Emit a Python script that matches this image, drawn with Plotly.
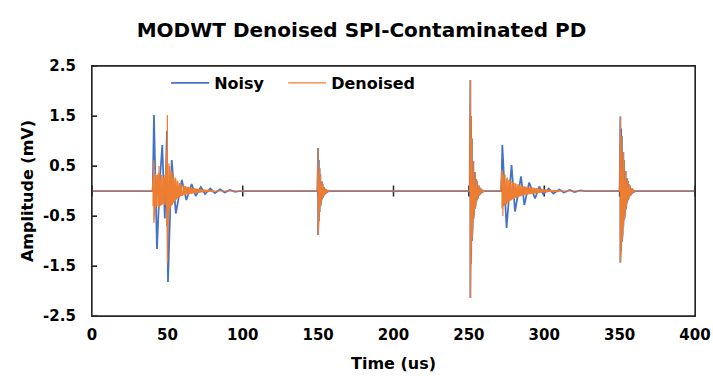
import plotly.graph_objects as go

# ---------------- text ----------------
TITLE = "MODWT Denoised SPI-Contaminated PD"
X_TITLE = "Time (us)"
Y_TITLE = "Amplitude (mV)"
SERIES = ["Noisy", "Denoised"]
x_tick_vals = [0, 50, 100, 150, 200, 250, 300, 350, 400]
y_tick_vals = [-2.5, -1.5, -0.5, 0.5, 1.5, 2.5]
y_tick_text = ["-2.5", "-1.5", "-0.5", "0.5", "1.5", "2.5"]
x_axis_crossing = 0.0  # horizontal axis crosses the vertical axis at 0 mV

# ---------------- data ----------------
record_t = [0.0, 400.0]
record_v = [0.0, 0.0]

# Noisy: low-frequency SPI oscillation peaks (time us, amplitude mV)
spi1_t = [40.3, 41.1, 43.1, 45.0, 46.6, 48.3, 49.7, 50.4, 52.9, 55.6, 59.6, 62.6,
          66.1, 68.8, 72.2, 75.0, 78.5, 81.5, 85.0, 88.0, 91.5, 95.0, 98.0]
spi1_v = [0.0, 1.52, -1.16, 0.2, 0.92, -0.55, 1.2, -1.82, 0.62, -0.45, 0.22, -0.18,
          0.14, -0.1, 0.08, -0.06, 0.05, -0.04, 0.035, -0.03, 0.02, -0.015, 0.0]
spi2_t = [271.5, 272.2, 275.0, 278.3, 280.6, 284.6, 286.8, 290.0, 293.9, 296.7,
          299.4, 303.0, 306.0, 310.0, 313.0, 317.0, 320.0, 324.0, 327.0]
spi2_v = [0.0, 0.92, -0.74, 0.52, -0.41, 0.29, -0.28, 0.17, -0.15, 0.09,
          -0.07, 0.05, -0.05, 0.03, -0.03, 0.02, -0.02, 0.01, 0.0]

# PD pulses present in both signals: sampled upper / lower extremes
pd150_t = [149.5, 150.0, 150.5, 151.0, 151.5, 152.0, 152.5, 153.0, 153.5, 154.0,
           154.5, 155.0, 155.5, 156.0, 156.5, 157.0, 157.5]
pd150_hi = [0.0, 0.86, 0.62, 0.45, 0.33, 0.25, 0.19, 0.14, 0.11, 0.08,
            0.06, 0.045, 0.035, 0.025, 0.018, 0.012, 0.0]
pd150_lo = [0.0, -0.88, -0.6, -0.42, -0.3, -0.23, -0.17, -0.13, -0.1, -0.075,
            -0.055, -0.04, -0.03, -0.022, -0.016, -0.01, 0.0]

pd250_t = [250.5, 251.0, 251.5, 252.0, 252.5, 253.0, 253.5, 254.0, 254.5, 255.0,
           255.5, 256.0, 256.5, 257.0, 257.5, 258.0, 258.5, 259.0, 259.5, 260.0, 260.5]
pd250_hi = [0.0, 2.22, 1.5, 1.05, 0.78, 0.6, 0.47, 0.38, 0.3, 0.24,
            0.19, 0.15, 0.11, 0.085, 0.065, 0.05, 0.035, 0.025, 0.015, 0.01, 0.0]
pd250_lo = [0.0, -2.14, -1.45, -1.0, -0.74, -0.56, -0.44, -0.35, -0.28, -0.22,
            -0.17, -0.13, -0.1, -0.075, -0.055, -0.04, -0.03, -0.02, -0.012, -0.008, 0.0]

pd350_t = [350.0, 350.5, 351.0, 351.5, 352.0, 352.5, 353.0, 353.5, 354.0, 354.5,
           355.0, 355.5, 356.0, 356.5, 357.0, 357.5, 358.0, 358.5, 359.0, 359.5, 360.0, 360.5]
pd350_hi = [0.0, 1.49, 1.25, 1.1, 0.92, 0.78, 0.62, 0.5, 0.4, 0.31,
            0.25, 0.2, 0.16, 0.13, 0.1, 0.08, 0.06, 0.045, 0.03, 0.02, 0.01, 0.0]
pd350_lo = [0.0, -1.43, -1.2, -1.02, -0.86, -0.72, -0.58, -0.47, -0.37, -0.29,
            -0.23, -0.18, -0.14, -0.11, -0.09, -0.07, -0.05, -0.04, -0.025, -0.015, -0.01, 0.0]

# Denoised-only PD content inside the SPI-contaminated regions
dn40_t = [40.0, 40.5, 41.0, 41.5, 42.0, 42.5, 43.0, 43.5, 44.0, 44.5, 45.0,
          45.5, 46.0, 46.5, 47.0, 47.5, 48.0, 48.5, 49.0, 49.5, 50.0,
          50.5, 51.0, 51.5, 52.0, 52.5, 53.0, 53.5, 54.0, 54.5, 55.0,
          55.5, 56.0, 56.5, 57.0, 57.5, 58.0, 58.5, 59.0, 59.5, 60.0,
          61.0, 62.0, 63.0, 64.0, 65.0, 66.0, 67.0, 68.0, 69.0, 70.0,
          71.0, 72.0, 73.0, 74.0, 75.0, 76.0, 77.0, 78.0, 79.0, 80.0, 81.0]
dn40_hi = [0.0, 0.3, 0.62, 0.4, 0.34, 0.3, 0.32, 0.28, 0.35, 0.5, 0.34,
           0.28, 0.32, 0.3, 0.28, 0.26, 0.28, 0.32, 0.42, 0.8, 1.52,
           0.85, 0.55, 0.5, 0.45, 0.42, 0.38, 0.35, 0.32, 0.29, 0.27,
           0.25, 0.23, 0.21, 0.19, 0.17, 0.16, 0.15, 0.14, 0.13, 0.12,
           0.11, 0.1, 0.09, 0.085, 0.075, 0.065, 0.06, 0.055, 0.05, 0.045,
           0.04, 0.036, 0.033, 0.03, 0.027, 0.025, 0.022, 0.02, 0.018, 0.016, 0.0]
dn40_lo = [0.0, -0.3, -0.64, -0.45, -0.32, -0.28, -0.3, -0.27, -0.32, -0.36, -0.3,
           -0.27, -0.28, -0.26, -0.27, -0.24, -0.26, -0.28, -0.38, -0.7, -1.45,
           -0.75, -0.42, -0.36, -0.33, -0.3, -0.28, -0.25, -0.23, -0.2, -0.19,
           -0.17, -0.16, -0.15, -0.13, -0.12, -0.11, -0.1, -0.1, -0.09, -0.09,
           -0.085, -0.08, -0.075, -0.065, -0.06, -0.055, -0.05, -0.045, -0.04, -0.037,
           -0.034, -0.031, -0.028, -0.025, -0.023, -0.02, -0.018, -0.016, -0.014, -0.012, 0.0]

dn272_t = [271.0, 271.5, 272.0, 272.5, 273.0, 273.5, 274.0, 274.5, 275.0, 275.5, 276.0,
           276.5, 277.0, 277.5, 278.0, 278.5, 279.0, 279.5, 280.0, 280.5, 281.0,
           281.5, 282.0, 282.5, 283.0, 283.5, 284.0, 284.5, 285.0,
           286.0, 287.0, 288.0, 289.0, 290.0, 291.0, 292.0, 293.0, 294.0, 295.0,
           296.0, 297.0, 298.0, 299.0, 300.0, 301.0, 302.0, 303.0, 304.0, 305.0,
           306.0, 307.0, 308.0, 309.0, 310.0, 311.0]
dn272_hi = [0.0, 0.2, 0.42, 0.38, 0.32, 0.3, 0.33, 0.28, 0.25, 0.27, 0.25,
            0.22, 0.24, 0.22, 0.2, 0.2, 0.18, 0.17, 0.17, 0.16, 0.15,
            0.15, 0.14, 0.13, 0.13, 0.12, 0.12, 0.11, 0.11,
            0.1, 0.095, 0.09, 0.085, 0.08, 0.075, 0.07, 0.065, 0.06, 0.055,
            0.05, 0.046, 0.042, 0.038, 0.034, 0.03, 0.027, 0.024, 0.021, 0.018,
            0.016, 0.014, 0.012, 0.01, 0.008, 0.0]
dn272_lo = [0.0, -0.2, -0.35, -0.5, -0.3, -0.28, -0.25, -0.25, -0.27, -0.22, -0.22,
            -0.2, -0.2, -0.18, -0.18, -0.17, -0.16, -0.15, -0.15, -0.14, -0.13,
            -0.13, -0.12, -0.12, -0.11, -0.1, -0.1, -0.1, -0.09,
            -0.085, -0.08, -0.076, -0.072, -0.068, -0.064, -0.06, -0.055, -0.05, -0.046,
            -0.042, -0.039, -0.036, -0.032, -0.029, -0.026, -0.023, -0.02, -0.018, -0.016,
            -0.014, -0.012, -0.01, -0.008, -0.006, 0.0]


def zigzag(t, hi, lo):
    xs, ys = [], []
    for ti, h, l in zip(t, hi, lo):
        xs += [ti, ti]
        ys += [h, l]
    return xs, ys


def assemble(segments):
    segs = sorted(segments, key=lambda s: s[0][0])
    xs, ys = [], []
    for sx, sy in segs:
        xs += list(sx)
        ys += list(sy)
    return xs, ys


p150 = zigzag(pd150_t, pd150_hi, pd150_lo)
p250 = zigzag(pd250_t, pd250_hi, pd250_lo)
p350 = zigzag(pd350_t, pd350_hi, pd350_lo)

noisy_x, noisy_y = assemble([
    ([record_t[0]], [record_v[0]]),
    (spi1_t, spi1_v), p150, p250, (spi2_t, spi2_v), p350,
    ([record_t[1]], [record_v[1]]),
])
den_x, den_y = assemble([
    ([record_t[0]], [record_v[0]]),
    zigzag(dn40_t, dn40_hi, dn40_lo), p150, p250,
    zigzag(dn272_t, dn272_hi, dn272_lo), p350,
    ([record_t[1]], [record_v[1]]),
])

BLUE = "#4472C4"
ORANGE = "#ED7D31"
FONT = "DejaVu Sans"
AXIS_COLOR = "#262626"

fig = go.Figure()
fig.add_trace(go.Scatter(x=noisy_x, y=noisy_y, mode="lines", name="<b>" + SERIES[0] + "</b>",
                         line=dict(color=BLUE, width=1.75), legend="legend"))
fig.add_trace(go.Scatter(x=den_x, y=den_y, mode="lines", name="<b>" + SERIES[1] + "</b>",
                         line=dict(color=ORANGE, width=1.2), legend="legend2"))

# frame of the plot area
shapes = [dict(type="rect", xref="paper", yref="paper", x0=0, x1=1, y0=0, y1=1,
               line=dict(color=AXIS_COLOR, width=1.3), layer="above")]
# cross tick marks of the horizontal axis, which sits on the 0 mV line
for v in x_tick_vals:
    shapes.append(dict(type="line", xref="x", yref="y", x0=v, x1=v,
                       ysizemode="pixel", yanchor=x_axis_crossing, y0=-5.5, y1=5.5,
                       line=dict(color=AXIS_COLOR, width=1.5), layer="below"))
# inside tick marks of the vertical axis
for v in y_tick_vals:
    shapes.append(dict(type="line", xref="paper", yref="y",
                       xsizemode="pixel", xanchor=0, x0=0, x1=5, y0=v, y1=v,
                       line=dict(color=AXIS_COLOR, width=1.3), layer="above"))

legend_common = dict(orientation="h", xanchor="left", y=0.932, yanchor="middle",
                     bgcolor="rgba(0,0,0,0)", itemwidth=38,
                     font=dict(family=FONT, size=16, color="black"))

fig.update_layout(
    template="none",
    width=713, height=389,
    margin=dict(l=92, r=18, t=66, b=73, autoexpand=False),
    paper_bgcolor="white", plot_bgcolor="white",
    font=dict(family=FONT, color="black"),
    title=dict(text="<b>" + TITLE + "</b>", x=0.507, xref="container", xanchor="center",
               y=1 - 30 / 389, yref="container", yanchor="middle",
               font=dict(family=FONT, size=20, color="black")),
    showlegend=True,
    legend=dict(legend_common, x=0.123),
    legend2=dict(legend_common, x=0.317),
    shapes=shapes,
    xaxis=dict(range=[0, 400], tickvals=x_tick_vals,
               ticktext=["<b>%d</b>" % v for v in x_tick_vals],
               ticks="outside", ticklen=5, tickcolor="rgba(0,0,0,0)",
               showgrid=False, zeroline=False, automargin=False,
               showline=True, mirror=True, linecolor=AXIS_COLOR, linewidth=1.3,
               tickfont=dict(family=FONT, size=15, color="black"),
               title=dict(text="<b>" + X_TITLE + "</b>", standoff=14,
                          font=dict(family=FONT, size=16, color="black"))),
    yaxis=dict(range=[-2.5, 2.5], tickvals=y_tick_vals,
               ticktext=["<b>%s</b>" % s for s in y_tick_text],
               ticks="inside", ticklen=5, tickwidth=1.3, tickcolor=AXIS_COLOR,
               showgrid=False, zeroline=False, automargin=False,
               showline=True, mirror=True, linecolor=AXIS_COLOR, linewidth=1.3,
               tickfont=dict(family=FONT, size=15, color="black"),
               ticklabelstandoff=12,
               title=dict(text="<b>" + Y_TITLE + "</b>", standoff=5,
                          font=dict(family=FONT, size=16, color="black"))),
)

fig.write_html("out.html", config={"displayModeBar": False},
               post_script="document.body.style.margin='0';")
